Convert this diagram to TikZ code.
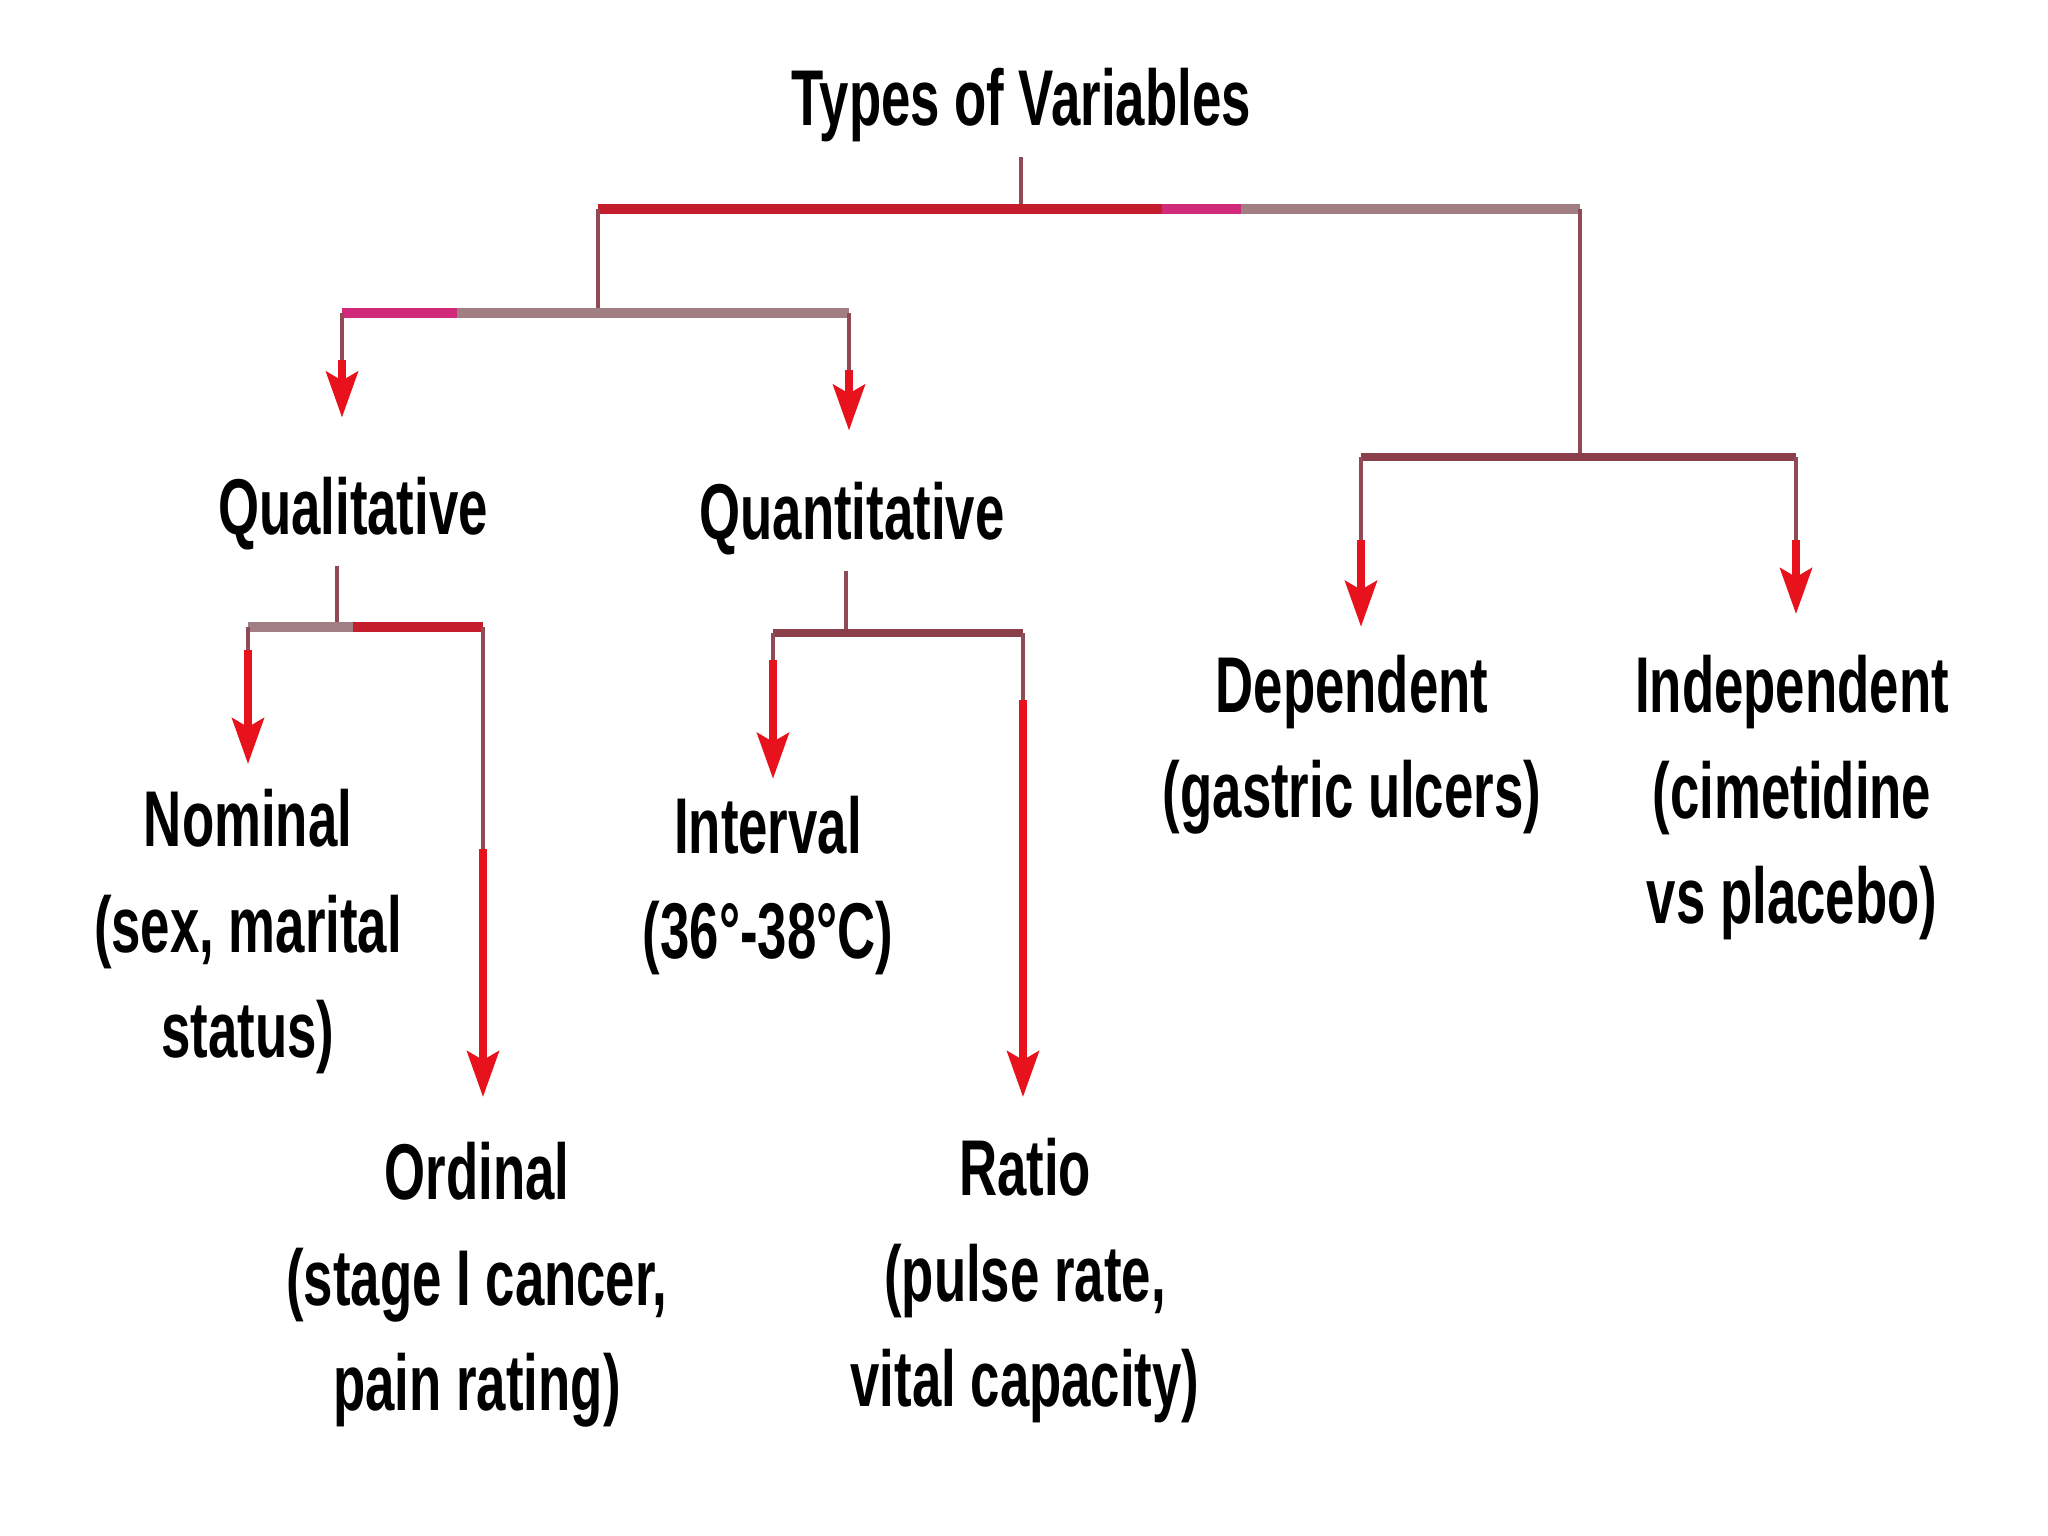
\documentclass[tikz,border=0pt]{standalone}
\usepackage{fontspec}
\setmainfont{Liberation Sans}
\usepackage{graphicx}
\usetikzlibrary{arrows.meta}
\definecolor{thinC}{HTML}{8E4A55}
\definecolor{barC}{HTML}{A07E84}
\definecolor{darkbarC}{HTML}{8B3F4A}
\definecolor{hotC}{HTML}{C41E2C}
\definecolor{magC}{HTML}{D22A7A}
\definecolor{arrC}{HTML}{E8121C}
\newcommand\vlbl[1]{\scalebox{1}[1.5]{\begin{tabular}{@{}c@{}}#1\end{tabular}}}
\begin{document}
\begin{tikzpicture}[x=0.01cm,y=-0.01cm,
  lbl/.style={inner sep=0pt, font=\fontsize{15}{20}\selectfont\bfseries},
  conn/.style={draw=thinC, line width=1.3pt},
  barl/.style={draw=barC, line width=2.6pt},
  dbarl/.style={draw=darkbarC, line width=2.4pt},
  hotl/.style={draw=hotC, line width=3pt},
  magl/.style={draw=magC, line width=3pt},
  redarr/.style={draw=arrC, line width=2.2pt, -{Stealth[length=13pt,width=9pt,inset=2.5pt]}}]
\useasboundingbox[fill=white] (0,0) rectangle (2048,1536);

% nodes
\node[lbl] (title) at (1021,104) {\vlbl{Types of Variables}};
\node[lbl] (qual)  at (353,513)  {\vlbl{Qualitative}};
\node[lbl] (quant) at (852,518)  {\vlbl{Quantitative}};
\node[lbl] (nom)   at (248,931)  {\vlbl{Nominal\\(sex, marital\\status)}};
\node[lbl] (ord)   at (477,1284) {\vlbl{Ordinal\\(stage I cancer,\\pain rating)}};
\node[lbl] (int)   at (768,885)  {\vlbl{Interval\\(36°-38°C)}};
\node[lbl] (rat)   at (1025,1280){\vlbl{Ratio\\(pulse rate,\\vital capacity)}};
\node[lbl] (dep)   at (1352,744) {\vlbl{Dependent\\(gastric ulcers)}};
\node[lbl] (ind)   at (1792,797) {\vlbl{Independent\\(cimetidine\\vs placebo)}};

% junction coordinates
\coordinate (tbJ) at (1025,209);
\coordinate (tbL) at (598,209);
\coordinate (tbR) at (1580,209);
\coordinate (tbH) at (1162,209);
\coordinate (tbM) at (1241,209);
\coordinate (b2J) at (598,313);
\coordinate (b2L) at (342,313);
\coordinate (b2R) at (849,313);
\coordinate (b2H) at (457,313);
\coordinate (b3J) at (1580,457);
\coordinate (b3L) at (1361,457);
\coordinate (b3R) at (1796,457);
\coordinate (b4J) at (337,627);
\coordinate (b4L) at (248,627);
\coordinate (b4R) at (483,627);
\coordinate (b5J) at (846,633);
\coordinate (b5L) at (773,633);
\coordinate (b5R) at (1023,633);

% title stem and top bar
\draw[conn] (title.south) -- (title.south |- tbJ);
\draw[barl] (tbL) -- (tbR);
\draw[hotl] (tbL) -- (tbH);
\draw[magl] (tbH) -- (tbM);

% level 2 left
\draw[conn] (tbL) -- (b2J);
\draw[barl] (b2L) -- (b2R);
\draw[magl] (b2L) -- (b2H);
\draw[conn, shorten >=0.6cm] (b2L) -- (b2L |- qual.north);
\draw[redarr, shorten <=0.47cm, shorten >=0.42cm] (b2L) -- (b2L |- qual.north);
\draw[conn, shorten >=0.5cm] (b2R) -- (b2R |- quant.north);
\draw[redarr, shorten <=0.57cm, shorten >=0.34cm] (b2R) -- (b2R |- quant.north);

% level 2 right
\draw[conn] (tbR) -- (b3J);
\draw[dbarl] (b3L) -- (b3R);
\draw[conn, shorten >=0.3cm] (b3L) -- (b3L |- dep.north);
\draw[redarr, shorten <=0.83cm, shorten >=0.11cm] (b3L) -- (b3L |- dep.north);
\draw[conn, shorten >=0.4cm] (b3R) -- (b3R |- ind.north);
\draw[redarr, shorten <=0.83cm, shorten >=0.24cm] (b3R) -- (b3R |- ind.north);

% qualitative subtree
\draw[conn] (b4J |- qual.south) -- (b4J);
\draw[barl] (b4L) -- (b4R);
\draw[hotl] (qual.south |- b4J) -- (b4R);
\draw[conn, shorten >=0.3cm] (b4L) -- (b4L |- nom.north);
\draw[redarr, shorten <=0.23cm, shorten >=0.08cm] (b4L) -- (b4L |- nom.north);
\draw[conn, shorten >=0.5cm] (b4R) -- (b4R |- ord.north);
\draw[redarr, shorten <=2.22cm, shorten >=0.28cm] (b4R) -- (b4R |- ord.north);

% quantitative subtree
\draw[conn] (b5J |- quant.south) -- (b5J);
\draw[dbarl] (b5L) -- (b5R);
\draw[conn, shorten >=0.2cm] (b5L) -- (b5L |- int.north);
\draw[redarr, shorten <=0.27cm, shorten >=0cm] (b5L) -- (b5L |- int.north);
\draw[conn, shorten >=0.4cm] (b5R) -- (b5R |- rat.north);
\draw[redarr, shorten <=0.67cm, shorten >=0.24cm] (b5R) -- (b5R |- rat.north);
\end{tikzpicture}
\end{document}
